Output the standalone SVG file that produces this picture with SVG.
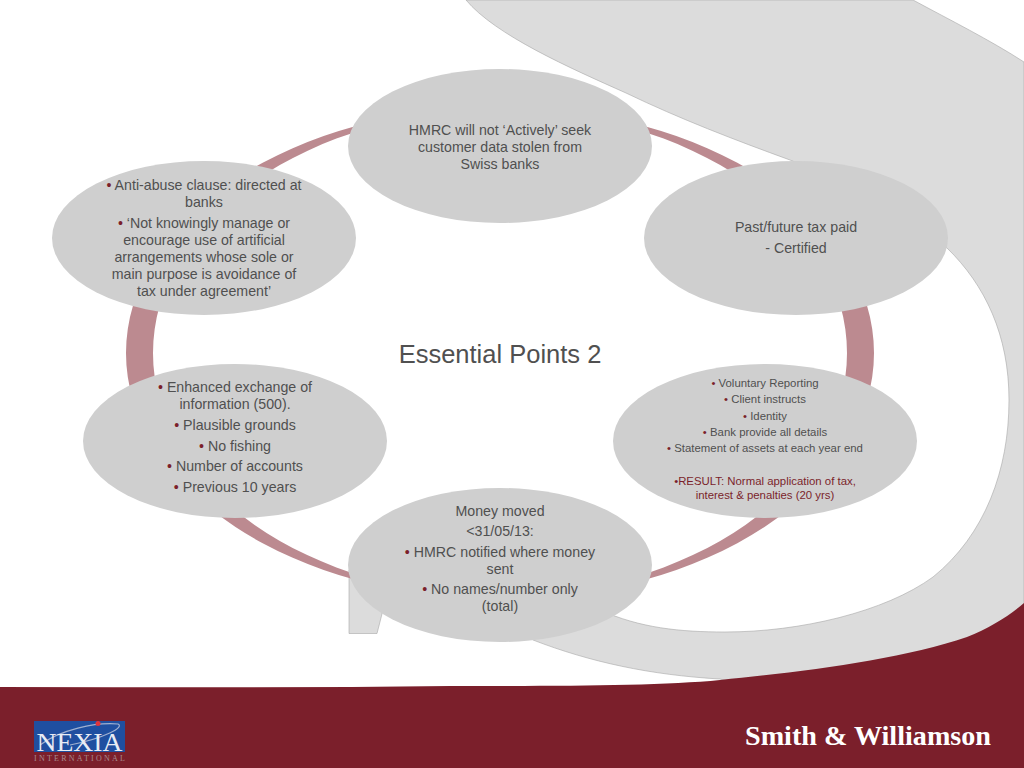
<svg xmlns="http://www.w3.org/2000/svg" width="1024" height="768" viewBox="0 0 1024 768">
<style>
.n{fill:#cfcfcf}
.t{font-family:"Liberation Sans",Arial,sans-serif;font-size:14.200px;fill:#505050;text-anchor:middle}
.s{font-size:11.400px}
.b{fill:#7b1f2b}
.sw{fill:#dcdcdc;stroke:#a8a8a8;stroke-width:.6}
</style>
<rect width="1024" height="768" fill="#fff"/>
<g id="background">
<path class="sw" d="M466 0C495 35 570 68 626 93C680 119 735 140 790 160C860 188 915 215 947 248C985 285 1009 335 1009 400C1009 470 985 535 933 577C885 612 800 632 725 632C680 632 640 628 600 610L500 610L533 640C590 662 650 675 720 679L800 700H1024V62C990 40 950 20 913 0Z"/>
<path class="sw" d="M349 570V633.500H377L383 610Z"/>
<path class="b" d="M0 687C150 687 300 688 450 686C560 686 660 686 720 680C800 672 900 660 967 637C990 628 1010 615 1024 603V768H0Z"/>
</g>
<g id="connectors">
<path fill="#bc8a90" fill-rule="evenodd" d="M126 353A374 246 0 1 1 874 353A374 246 0 1 1 126 353ZM153 353A347 243 0 1 0 847 353A347 243 0 1 0 153 353Z"/>
</g>
<g id="node-top">
<ellipse class="n" cx="500" cy="146" rx="152" ry="77"/>
<text class="t" x="500" y="135">HMRC will not ‘Actively’ seek</text>
<text class="t" x="500" y="152">customer data stolen from</text>
<text class="t" x="500" y="169">Swiss banks</text>
</g>
<g id="node-top-right">
<ellipse class="n" cx="796" cy="238" rx="152" ry="77"/>
<text class="t" x="796" y="232">Past/future tax paid</text>
<text class="t" x="796" y="253">- Certified</text>
</g>
<g id="node-bottom-right">
<ellipse class="n" cx="765" cy="441" rx="152" ry="77"/>
<text class="t s" x="765" y="387"><tspan class="b">• </tspan>Voluntary Reporting</text>
<text class="t s" x="765" y="403"><tspan class="b">• </tspan>Client instructs</text>
<text class="t s" x="765" y="420"><tspan class="b">• </tspan>Identity</text>
<text class="t s" x="765" y="436"><tspan class="b">• </tspan>Bank provide all details</text>
<text class="t s" x="765" y="452"><tspan class="b">• </tspan>Statement of assets at each year end</text>
<text class="t s b" x="765" y="485">•RESULT: Normal application of tax,</text>
<text class="t s b" x="765" y="499">interest &amp; penalties (20 yrs)</text>
</g>
<g id="node-bottom">
<ellipse class="n" cx="500" cy="565" rx="152" ry="77"/>
<text class="t" x="500" y="516">Money moved</text>
<text class="t" x="500" y="536">&lt;31/05/13:</text>
<text class="t" x="500" y="557"><tspan class="b">• </tspan>HMRC notified where money</text>
<text class="t" x="500" y="574">sent</text>
<text class="t" x="500" y="594"><tspan class="b">• </tspan>No names/number only</text>
<text class="t" x="500" y="611">(total)</text>
</g>
<g id="node-bottom-left">
<ellipse class="n" cx="235" cy="441" rx="152" ry="77"/>
<text class="t" x="235" y="392"><tspan class="b">• </tspan>Enhanced exchange of</text>
<text class="t" x="235" y="409">information (500).</text>
<text class="t" x="235" y="430"><tspan class="b">• </tspan>Plausible grounds</text>
<text class="t" x="235" y="451"><tspan class="b">• </tspan>No fishing</text>
<text class="t" x="235" y="471"><tspan class="b">• </tspan>Number of accounts</text>
<text class="t" x="235" y="492"><tspan class="b">• </tspan>Previous 10 years</text>
</g>
<g id="node-top-left">
<ellipse class="n" cx="204" cy="238" rx="152" ry="77"/>
<text class="t" x="204" y="190"><tspan class="b">• </tspan>Anti-abuse clause: directed at</text>
<text class="t" x="204" y="207">banks</text>
<text class="t" x="204" y="228"><tspan class="b">• </tspan>‘Not knowingly manage or</text>
<text class="t" x="204" y="245">encourage use of artificial</text>
<text class="t" x="204" y="262">arrangements whose sole or</text>
<text class="t" x="204" y="279">main purpose is avoidance of</text>
<text class="t" x="204" y="296">tax under agreement’</text>
</g>
<g id="title">
<text class="t" x="500" y="363" style="font-size:25.500px">Essential Points 2</text>
</g>
<g id="logo-nexia">
<rect x="34" y="721" width="91" height="31" fill="#1f4fa0"/>
<path d="M40 745C60 730 95 722 118 724C125 727 105 738 70 745" fill="none" stroke="#9fb0d0" stroke-width="1.200"/>
<circle cx="98" cy="723.500" r="2.500" fill="#e2343c"/>
<text x="79.500" y="751" text-anchor="middle" font-family="Liberation Serif,serif" font-size="25" fill="#e8ecf4" textLength="86" lengthAdjust="spacingAndGlyphs">NEXIA</text>
<text x="79.500" y="761" text-anchor="middle" font-family="Liberation Serif,serif" font-size="8" fill="#a98a8e" textLength="91" lengthAdjust="spacing">INTERNATIONAL</text>
</g>
<g id="brand">
<text x="745" y="745" font-family="Liberation Serif,serif" font-weight="700" font-size="27" fill="#fff" textLength="246" lengthAdjust="spacingAndGlyphs">Smith &amp; Williamson</text>
</g>
</svg>
